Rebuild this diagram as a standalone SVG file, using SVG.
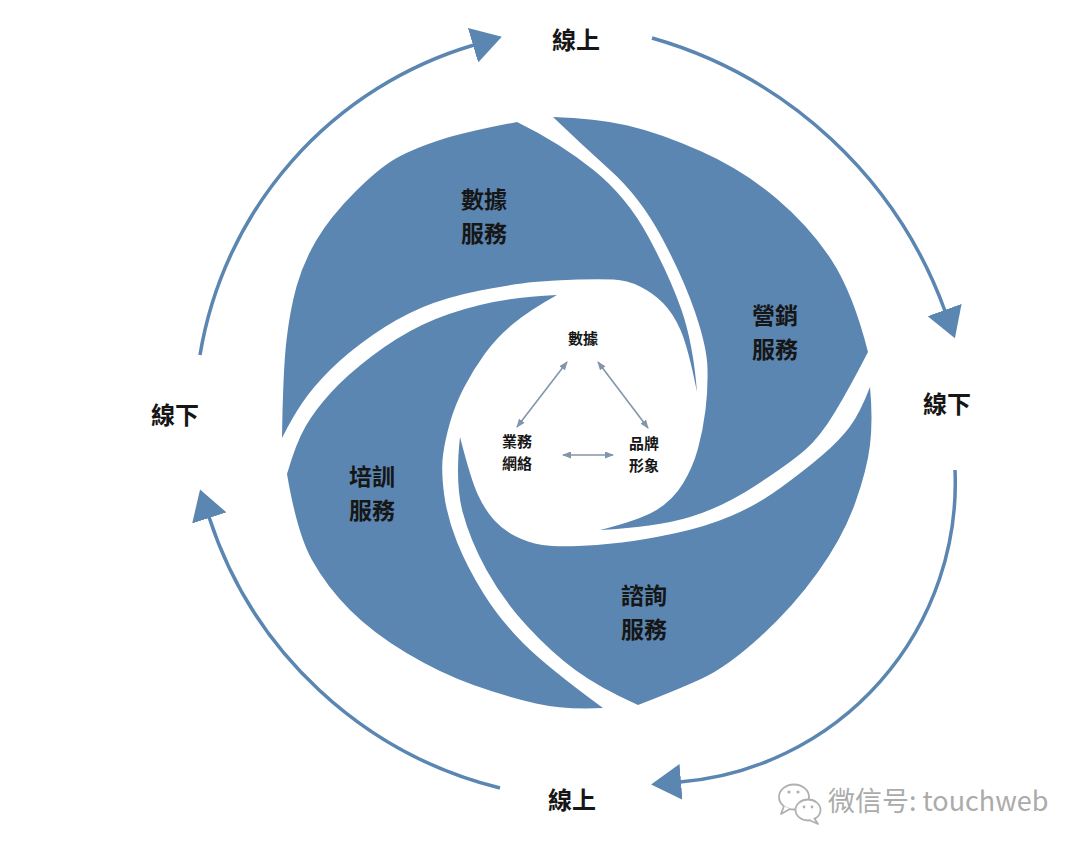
<svg xmlns="http://www.w3.org/2000/svg" width="1080" height="848" viewBox="0 0 1080 848">
<style>
.blade{fill:#5a86b1}
.lbl{font-family:"Noto Sans CJK TC","Noto Sans CJK SC",sans-serif;font-weight:700;fill:#161616;text-anchor:middle}
.big{font-size:23px}
.ring{font-size:24px}
.small{font-size:15px}
.cycle{fill:none;stroke:#5a86b1;stroke-width:3.5}
.link{fill:none;stroke:#8296ab;stroke-width:1.6}
.wm{font-family:"Noto Sans CJK SC","Noto Sans",sans-serif;font-size:27px;fill:#ababab}
</style>
<defs>
<marker id="bigHead" markerUnits="userSpaceOnUse" orient="auto" viewBox="0 0 30 36" markerWidth="30" markerHeight="36" refX="1" refY="18">
<path d="M0,0 L30,18 L0,36 Z" fill="#5a86b1"/>
</marker>
<marker id="smallHead" markerUnits="userSpaceOnUse" orient="auto-start-reverse" viewBox="0 0 9 7" markerWidth="9" markerHeight="7" refX="8" refY="3.5">
<path d="M0,0 L9,3.5 L0,7 Z" fill="#8296ab"/>
</marker>
</defs>
<rect width="1080" height="848" fill="#ffffff"/>

<g id="connectors">
<path class="cycle" d="M200,355 A389,389 0 0 1 474,45" marker-end="url(#bigHead)"/>
<path class="cycle" d="M652,38 A440,440 0 0 1 945,311" marker-end="url(#bigHead)"/>
<path class="cycle" d="M955,470 A300,300 0 0 1 680,782" marker-end="url(#bigHead)"/>
<path class="cycle" d="M500,788 A409,409 0 0 1 209,517" marker-end="url(#bigHead)"/>
<line class="link" x1="567" y1="362" x2="517" y2="427" marker-start="url(#smallHead)" marker-end="url(#smallHead)"/>
<line class="link" x1="598" y1="362" x2="648" y2="428" marker-start="url(#smallHead)" marker-end="url(#smallHead)"/>
<line class="link" x1="563" y1="455" x2="613" y2="455" marker-start="url(#smallHead)" marker-end="url(#smallHead)"/>
</g>

<g id="blade-data">
<path class="blade" d="M517,122 Q560,143 593.5,170 Q627,197 648.5,237 Q670,277 681.5,310 Q693,343 697,392 Q688,347 680.5,330 Q673,313 663,303 Q653,293 640,286.5 Q627,280 613.5,279.5 Q600,279 577.5,279.5 Q555,280 534,282 Q513,284 480,290.5 Q447,297 422,307.5 Q397,318 372,335.5 Q347,353 330,370 Q313,387 302.5,402.5 Q292,418 282,438 Q283,370 286.5,340 Q290,310 296.5,286.5 Q303,263 316.5,240 Q330,217 355,192 Q380,167 397.5,157.5 Q415,148 440,140 Q465,132 517,122 Z"/>
<text class="lbl big" x="484" y="208">數據</text>
<text class="lbl big" x="484" y="242">服務</text>
</g>

<g id="blade-marketing">
<path class="blade" d="M868,352 Q850,387 835,412 Q820,437 805,450 Q790,463 756.5,485 Q723,507 690,517 Q657,527 600,530 Q640,520 656.5,510 Q673,500 683,483.5 Q693,467 698,448.5 Q703,430 705.5,410 Q708,390 707.5,368.5 Q707,347 695,312 Q683,277 661.5,237 Q640,197 610,170 Q580,143 553,117 Q595,118 627.5,125.5 Q660,133 701.5,151.5 Q743,170 776.5,198.5 Q810,227 831.5,260 Q853,293 868,352 Z"/>
<text class="lbl big" x="775" y="324">營銷</text>
<text class="lbl big" x="775" y="358">服務</text>
</g>

<g id="blade-consulting">
<path class="blade" d="M638,705 Q600,688 576,670.5 Q552,653 527.5,626.5 Q503,600 486.5,570 Q470,540 462.5,511.5 Q455,483 460,437 Q471,480 478,495 Q485,510 494,520 Q503,530 516,536.5 Q529,543 542.5,545 Q556,547 578.5,546 Q601,545 622,542.5 Q643,540 674,533.5 Q705,527 731,516 Q757,505 781,487.5 Q805,470 822.5,455 Q840,440 850,426.5 Q860,413 870,387 Q873,420 870,445 Q867,470 855,503.5 Q843,537 818,572 Q793,607 760,637 Q727,667 702,678.5 Q677,690 638,705 Z"/>
<text class="lbl big" x="644" y="604">諮詢</text>
<text class="lbl big" x="644" y="638">服務</text>
</g>

<g id="blade-training">
<path class="blade" d="M287,474 Q296,443 305.5,426.5 Q315,410 331,392.5 Q347,375 372,356 Q397,337 422,325 Q447,313 480,305 Q513,297 557,295 Q530,310 513.5,323.5 Q497,337 485,353.5 Q473,370 464,387.5 Q455,405 450,422.5 Q445,440 443,455 Q441,470 444,493.5 Q447,517 457,542 Q467,567 483.5,593.5 Q500,620 523.5,643.5 Q547,667 603,708 Q565,710 536,703.5 Q507,697 473.5,685 Q440,673 406.5,653 Q373,633 350,610 Q327,587 312,560 Q297,533 287,474 Z"/>
<text class="lbl big" x="372" y="485">培訓</text>
<text class="lbl big" x="372" y="519">服務</text>
</g>

<g id="core-data">
<text class="lbl small" x="583" y="344">數據</text>
</g>
<g id="core-network">
<text class="lbl small" x="517" y="447">業務</text>
<text class="lbl small" x="517" y="469">網絡</text>
</g>
<g id="core-brand">
<text class="lbl small" x="644" y="449">品牌</text>
<text class="lbl small" x="644" y="471">形象</text>
</g>

<g id="online-top"><text class="lbl ring" x="576" y="49">線上</text></g>
<g id="offline-right"><text class="lbl ring" x="947" y="413">線下</text></g>
<g id="online-bottom"><text class="lbl ring" x="572" y="809">線上</text></g>
<g id="offline-left"><text class="lbl ring" x="175" y="424">線下</text></g>

<g id="watermark">
<ellipse cx="794" cy="797" rx="15" ry="12.5" fill="#ffffff" stroke="#b0b0b0" stroke-width="1.8"/>
<path d="M784,806 L781,814 L790,809" fill="#ffffff" stroke="#b0b0b0" stroke-width="1.8" stroke-linejoin="round"/>
<ellipse cx="808" cy="810" rx="12.5" ry="10.5" fill="#ffffff" stroke="#b0b0b0" stroke-width="1.8"/>
<path d="M814,818 L818,824 L809,820" fill="#ffffff" stroke="#b0b0b0" stroke-width="1.8" stroke-linejoin="round"/>
<circle cx="789" cy="792" r="1.6" fill="#b0b0b0"/>
<circle cx="798" cy="792" r="1.6" fill="#b0b0b0"/>
<circle cx="804" cy="807" r="1.4" fill="#b0b0b0"/>
<circle cx="812" cy="807" r="1.4" fill="#b0b0b0"/>
<text class="wm" x="828" y="811">微信号: touchweb</text>
</g>
</svg>
